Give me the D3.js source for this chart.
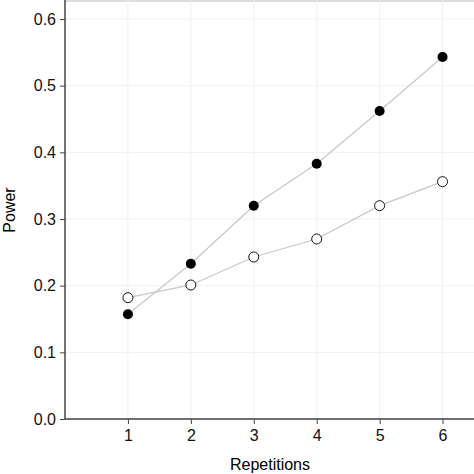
<!DOCTYPE html><html><head><script src="https://cdn.jsdelivr.net/npm/d3@7"></script>
<style>body{margin:0;background:#fff}</style></head><body><svg id="c" width="474" height="474"></svg>
<script>
const reps=[1,2,3,4,5,6];
const filled=[0.157,0.233,0.320,0.383,0.462,0.543];
const open=[0.182,0.201,0.243,0.270,0.320,0.356];
const yTicks=[0,0.1,0.2,0.3,0.4,0.5,0.6];
const svg=d3.select("#c");
const x=d3.scaleLinear().domain([0,6.5]).range([65,474]);
const y=d3.scaleLinear().domain([0,0.6]).range([419,19]);
svg.append("rect").attr("x",65).attr("y",0).attr("width",409).attr("height",2).attr("fill","#ddd");
const g=svg.append("g");
yTicks.forEach(t=>g.append("line").attr("x1",65).attr("x2",474).attr("y1",y(t)).attr("y2",y(t)).attr("stroke","#f0f0f0"));
reps.forEach(t=>g.append("line").attr("y1",0).attr("y2",419).attr("x1",x(t)).attr("x2",x(t)).attr("stroke","#f0f0f0"));
const ax=svg.append("g").attr("transform","translate(0,419)").call(d3.axisBottom(x).tickValues(reps).tickSize(5).tickPadding(6).tickFormat(d3.format("d")));
const ay=svg.append("g").attr("transform","translate(65,0)").call(d3.axisLeft(y).tickValues(yTicks).tickSize(5).tickPadding(4).tickFormat(d3.format(".1f")));
[ax,ay].forEach(a=>{a.select(".domain").attr("stroke","#444").attr("stroke-width",1.5);a.selectAll("line").attr("stroke","#444");a.selectAll("text").attr("font-family","Liberation Sans, Arial").attr("font-size",16).attr("fill","#111");});
ax.select(".domain").attr("d","M65,0H474");
ay.select(".domain").attr("d","M0,0V419");
const line=d3.line().x((d,i)=>x(reps[i])).y(d=>y(d));
[filled,open].forEach(s=>svg.append("path").attr("d",line(s)).attr("fill","none").attr("stroke","#c8c8c8").attr("stroke-width",1.3));
svg.selectAll(".o").data(open).enter().append("circle").attr("cx",(d,i)=>x(reps[i])).attr("cy",d=>y(d)).attr("r",5).attr("fill","#fff").attr("stroke","#111").attr("stroke-width",1);
svg.selectAll(".f").data(filled).enter().append("circle").attr("cx",(d,i)=>x(reps[i])).attr("cy",d=>y(d)).attr("r",5).attr("fill","#000");
svg.append("text").attr("x",270).attr("y",470).attr("text-anchor","middle").attr("font-family","Liberation Sans, Arial").attr("font-size",16).text("Repetitions");
svg.append("text").attr("transform","translate(15,210) rotate(-90)").attr("text-anchor","middle").attr("font-family","Liberation Sans, Arial").attr("font-size",16).text("Power");
</script></body></html>
